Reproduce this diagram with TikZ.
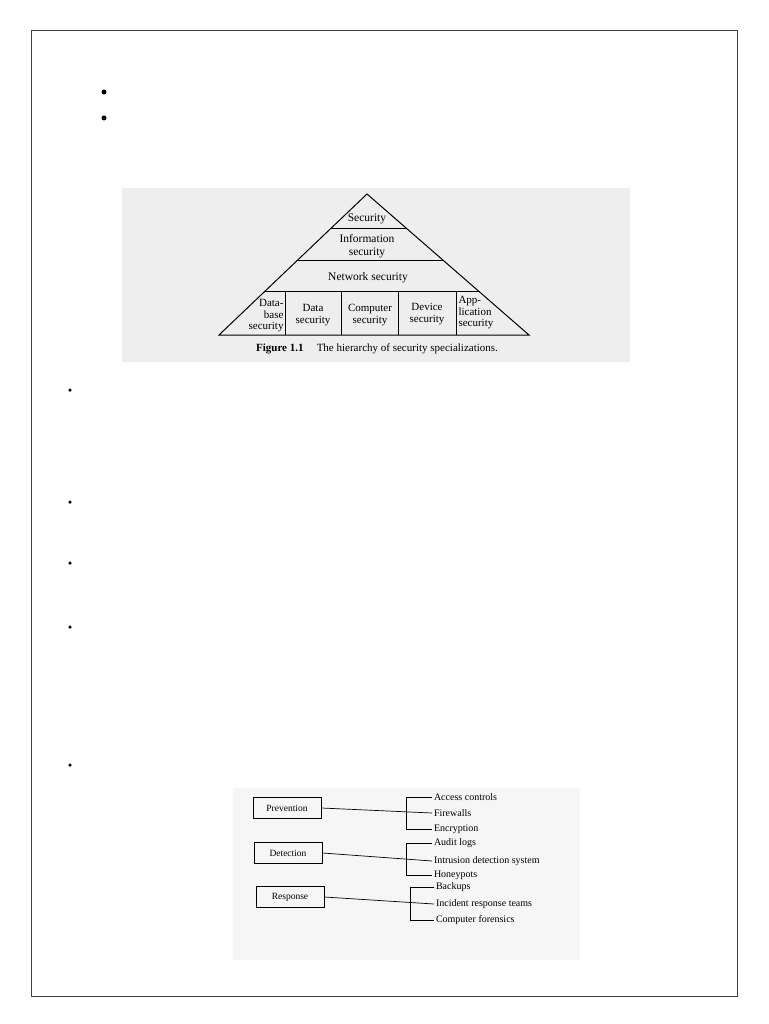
\documentclass[tikz,border=0pt]{standalone}
\usepackage{fontspec}
\setmainfont{Liberation Serif}
\usetikzlibrary{calc}
\definecolor{scangray}{RGB}{238,238,238}
\definecolor{scanlight}{RGB}{246,246,246}
\tikzset{
  layer/.style={font=\fontsize{11.5}{12.5}\selectfont,align=center,inner sep=0pt},
  cell/.style={font=\fontsize{11}{11.5}\selectfont,align=center,inner sep=0pt},
  catbox/.style={draw,minimum width=68pt,minimum height=21pt,font=\fontsize{9.5}{10}\selectfont,inner sep=1pt},
  item/.style={anchor=west,font=\fontsize{10}{10.5}\selectfont,inner sep=1.5pt},
  dot/.style={fill,circle,inner sep=0pt,minimum size=#1},
}
\begin{document}
\begin{tikzpicture}[x=1pt,y=-1pt,line width=1pt]
\useasboundingbox (0,0) rectangle (768,1024);
\fill[white] (0,0) rectangle (768,1024);
\draw[line width=0.7pt,black!75] (31,30) rectangle (737,996);
% bullets
\node[dot=5pt] (b1) at (104,92) {};
\node[dot=5pt] (b2) at (104,118) {};
\foreach \y in {390,502,563,627,765}
  \node[dot=3.5pt] at (70,\y) {};
% pyramid figure
\fill[scangray] (122,188) rectangle (630,362);
\coordinate (apex) at (367,194);
\coordinate (bl) at (219,335);
\coordinate (br) at (529,335);
\draw (apex) -- (bl) -- (br) -- cycle;
\foreach \t in {0.248,0.475,0.695}
  \draw ($(apex)!\t!(bl)$) -- ($(apex)!\t!(br)$);
\foreach \x in {285,341,398,456}
  \draw (\x,292) -- (\x,335);
\node[layer] (sec) at (367,219) {Security};
\node[layer] (info) at (367,246) {Information\\security};
\node[layer] (net) at (368,278) {Network security};
\node[cell,align=right,anchor=east] (db) at (284,316) {Data-\\base\\security};
\node[cell] (data) at (313,315) {Data\\security};
\node[cell] (comp) at (370,315) {Computer\\security};
\node[cell] (dev) at (427,314) {Device\\security};
\node[cell,align=left,anchor=west] (app) at (458,313) {App-\\lication\\security};
\node[font=\fontsize{11}{12}\selectfont,inner sep=0pt] (cap) at (377,349)
  {\textbf{Figure 1.1}\hspace{1.2em}The hierarchy of security specializations.};
% prevention / detection / response figure
\fill[scanlight] (233,788) rectangle (580,960);
\node[catbox] (prev) at (287,808) {Prevention};
\node[catbox] (det) at (288,853) {Detection};
\node[catbox] (resp) at (290,897) {Response};
\node[item] (ac) at (432,797) {Access controls};
\node[item] (fw) at (432,813) {Firewalls};
\node[item] (enc) at (432,829) {Encryption};
\node[item] (al) at (432,843) {Audit logs};
\node[item] (ids) at (432,861) {Intrusion detection system};
\node[item] (hp) at (432,875) {Honeypots};
\node[item] (bk) at (434,887) {Backups};
\node[item] (irt) at (434,904) {Incident response teams};
\node[item] (cf) at (434,920) {Computer forensics};
\draw[line width=0.7pt] (ac.west) -- ++(-26,0) |- (enc.west);
\draw[line width=0.7pt] (al.west) -- ++(-26,0) |- (hp.west);
\draw[line width=0.7pt] (bk.west) -- ++(-24,0) |- (cf.west);
\draw[line width=0.7pt] (prev.east) -- (fw.west);
\draw[line width=0.7pt] (det.east) -- (ids.west);
\draw[line width=0.7pt] (resp.east) -- (irt.west);
\end{tikzpicture}
\end{document}
